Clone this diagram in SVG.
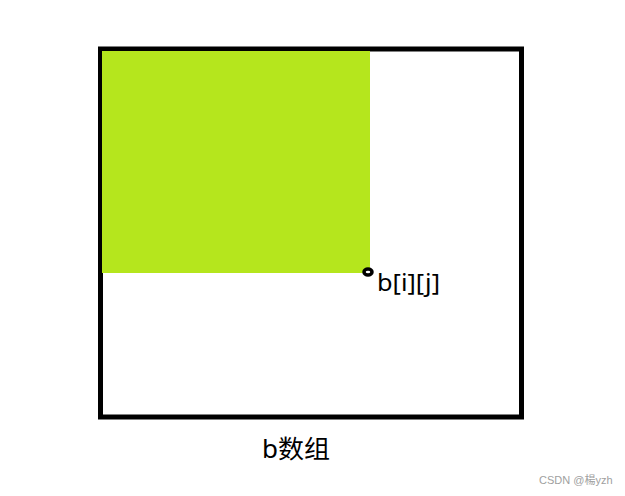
<svg xmlns="http://www.w3.org/2000/svg" width="625" height="496" viewBox="0 0 625 496">
<style>
.lbl{font-family:"Noto Sans","Noto Sans CJK SC",sans-serif;fill:#000}
.wm{font-family:"Liberation Sans","Noto Sans CJK SC",sans-serif;fill:#a0a0a0;font-size:11px}
</style>
<rect width="625" height="496" fill="#fff"/>
<g id="array-b">
<rect x="100.5" y="49" width="421" height="368" fill="#fff" stroke="#000" stroke-width="5"/>
</g>
<g id="prefix-region">
<rect x="102" y="51" width="268" height="222" fill="#b5e61d"/>
</g>
<g id="point-bij">
<ellipse cx="368" cy="272" rx="4" ry="3" fill="#fff" stroke="#000" stroke-width="3.5"/>
<text class="lbl" x="377" y="291" font-size="24" textLength="63" lengthAdjust="spacingAndGlyphs">b[i][j]</text>
</g>
<g id="caption">
<text class="lbl" x="262" y="458" font-size="25" textLength="68" lengthAdjust="spacingAndGlyphs">b数组</text>
</g>
<text class="wm" x="539" y="484">CSDN @楊yzh</text>
</svg>
